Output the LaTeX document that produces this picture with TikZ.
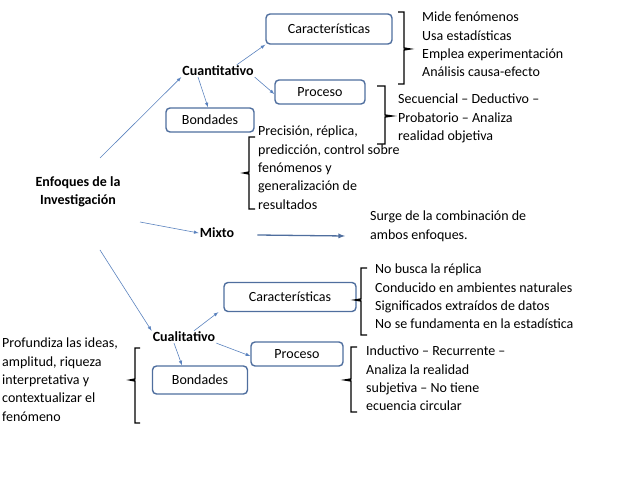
\documentclass[tikz,border=0pt]{standalone}
\usepackage{fontspec}
\setmainfont{Carlito}
\begin{document}
\begin{tikzpicture}[x=1pt,y=-1pt,font=\fontsize{14}{18.3}\selectfont,
  box/.style={draw=boxblue,line width=1.4pt,rounded corners=4pt,minimum height=27pt,inner sep=2pt},
  lbl/.style={font=\fontsize{14}{18.3}\selectfont\bfseries,inner sep=1pt},
  txt/.style={align=left,anchor=north west,inner sep=0pt},
  arr/.style={draw=arrblue,-latex,line width=0.6pt},
  brace/.style={draw=black,line width=1.4pt}]
\definecolor{boxblue}{RGB}{79,110,158}
\definecolor{arrblue}{RGB}{90,130,190}
\useasboundingbox (0,0) rectangle (622,486);
\node[lbl,align=center] (enf) at (78,192) {Enfoques de la\\Investigación};
\node[lbl] (cuan) at (218,71) {Cuantitativo};
\node[lbl] (mix) at (217,233) {Mixto};
\node[lbl] (cual) at (184,337) {Cualitativo};
\node[box,minimum width=126pt,minimum height=30pt] (c1) at (329,29) {Características};
\node[box,minimum width=90pt,minimum height=24pt] (p1) at (320,92) {Proceso};
\node[box,minimum width=88pt,minimum height=24pt] (b1) at (210,120) {Bondades};
\node[box,minimum width=132pt,minimum height=29pt] (c2) at (290,297) {Características};
\node[box,minimum width=92pt,minimum height=24pt] (p2) at (297,354) {Proceso};
\node[box,minimum width=95pt,minimum height=28pt] (b2) at (200,380) {Bondades};
% arrows
\coordinate (e1) at (100,158); \coordinate (e2) at (140,222); \coordinate (e3) at (100,250);
\draw[arr] (e1) -- (cuan.south west);
\draw[arr] (e2) -- (mix.west);
\draw[arr] (e3) -- (cual.north west);
\draw[arr] (cuan.north east) ++(-18,0) -- (c1.south west);
\draw[arr] (cuan.south east) -- ([yshift=-2]p1.west);
\draw[arr] ([xshift=-20]cuan.south) -- ([xshift=-2]b1.north);
\draw[arr] ([xshift=10]cual.north) -- ([xshift=-5]c2.south west);
\draw[arr] (cual.south east) -- ([yshift=-2]p2.west);
\draw[arr] ([xshift=-10]cual.south) -- ([xshift=-18]b2.north);
\node[txt] (mt) at (370,211) {Surge de la combinación de\\ambos enfoques.};
\draw[draw=boxblue,-latex,line width=1.3pt] (mix.east) ++(22,2) coordinate (ms) -- (345,236) coordinate (me);
% texts
\node[txt] (t1) at (422,12) {Mide fenómenos\\Usa estadísticas\\Emplea experimentación\\Análisis causa-efecto};
\node[txt] (t2) at (398,94) {Secuencial – Deductivo –\\Probatorio – Analiza\\realidad objetiva};
\node[txt] (t3) at (258,126) {Precisión, réplica,\\predicción, control sobre\\fenómenos y\\generalización de\\resultados};
\node[txt] (t4) at (375,264) {No busca la réplica\\Conducido en ambientes naturales\\Significados extraídos de datos\\No se fundamenta en la estadística};
\node[txt] (t5) at (366,346) {Inductivo – Recurrente –\\Analiza la realidad\\subjetiva – No tiene\\ecuencia circular};
\node[txt] (t6) at (2,338) {Profundiza las ideas,\\amplitud, riqueza\\interpretativa y\\contextualizar el\\fenómeno};
% braces (right-pointing)
\draw[brace] (398,12) -- (404,12) -- (404,48) -- (410,49) -- (404,50) -- (404,84) -- (398,84);
\draw[brace] (377,86) -- (385,86) -- (385,115) -- (392,116) -- (385,117) -- (385,144) -- (377,144);
% braces (left-pointing)
\draw[brace] (255,137) -- (249,137) -- (249,172) -- (244,173) -- (249,174) -- (249,209) -- (255,209);
\draw[brace] (367,268) -- (361,268) -- (361,299) -- (355,300) -- (361,301) -- (361,335) -- (367,335);
\draw[brace] (357,347) -- (351,347) -- (351,379) -- (345,380) -- (351,381) -- (351,412) -- (357,412);
\draw[brace] (140,348) -- (135,348) -- (135,379) -- (130,380) -- (135,381) -- (135,423) -- (140,423);
\end{tikzpicture}
\end{document}
